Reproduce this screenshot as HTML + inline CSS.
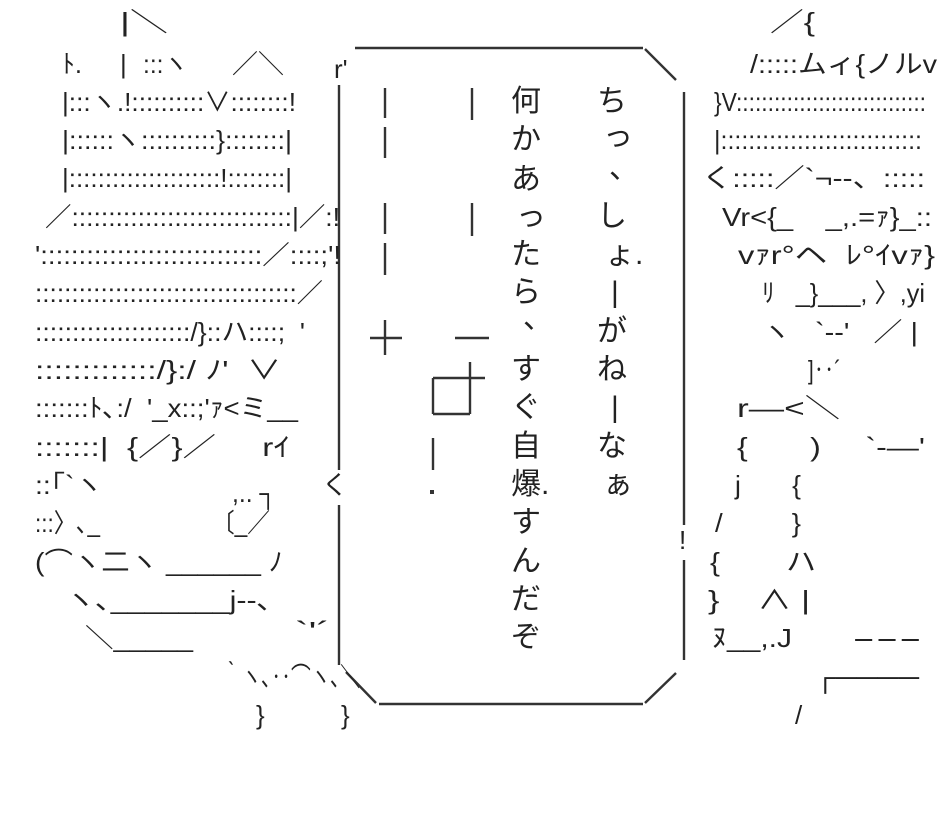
<!DOCTYPE html>
<html><head><meta charset="utf-8">
<style>
html,body{margin:0;padding:0;background:#fff;}
#c{position:relative;width:937px;height:819px;overflow:hidden;}
#c span{position:absolute;white-space:pre;font-family:"Liberation Sans","Noto Sans CJK JP",sans-serif;font-size:26px;line-height:38px;color:#222;transform-origin:0 50%;}
#c span.k{font-size:30px;}
svg{position:absolute;left:0;top:0;}
</style></head><body>
<div id="c">
<svg width="937" height="819" stroke="#333" stroke-width="2.4" fill="none">
<line x1="355" y1="48" x2="643" y2="48"/>
<line x1="645" y1="49" x2="676" y2="80"/>
<line x1="339" y1="85" x2="339" y2="470"/>
<line x1="339" y1="505" x2="339" y2="665"/>
<line x1="684" y1="92" x2="684" y2="525"/>
<line x1="684" y1="560" x2="684" y2="660"/>
<line x1="346" y1="672" x2="376" y2="703"/>
<line x1="379" y1="704" x2="643" y2="704"/>
<line x1="645" y1="703" x2="676" y2="673"/>
<line x1="385" y1="88" x2="385" y2="118"/>
<line x1="385" y1="127" x2="385" y2="158"/>
<line x1="385" y1="203" x2="385" y2="234"/>
<line x1="385" y1="243" x2="385" y2="275"/>
<line x1="472" y1="88" x2="472" y2="120"/>
<line x1="472" y1="203" x2="472" y2="236"/>
<line x1="370" y1="338" x2="402" y2="338"/>
<line x1="385" y1="320" x2="385" y2="355"/>
<line x1="455" y1="338" x2="489" y2="338"/>
<line x1="433" y1="378" x2="433" y2="414"/>
<line x1="433" y1="378" x2="485" y2="378"/>
<line x1="470" y1="362" x2="470" y2="414"/>
<line x1="433" y1="414" x2="470" y2="414"/>
<line x1="433" y1="438" x2="433" y2="470"/>
<rect x="430" y="490" width="4" height="4" fill="#333" stroke="none"/>
</svg>

<span style="left:334px;top:50px">r'</span>
<span style="left:322px;top:466px">く</span>
<span style="left:679px;top:521px">!</span>

<span class="k" style="left:511px;top:83px">何</span>
<span class="k" style="left:511px;top:121px">か</span>
<span class="k" style="left:511px;top:161px">あ</span>
<span class="k" style="left:516px;top:198px">っ</span>
<span class="k" style="left:511px;top:236px">た</span>
<span class="k" style="left:511px;top:274px">ら</span>
<span class="k" style="left:523px;top:300px">、</span>
<span class="k" style="left:511px;top:351px">す</span>
<span class="k" style="left:511px;top:389px">ぐ</span>
<span class="k" style="left:511px;top:428px">自</span>
<span class="k" style="left:511px;top:466px">爆.</span>
<span class="k" style="left:511px;top:504px">す</span>
<span class="k" style="left:511px;top:543px">ん</span>
<span class="k" style="left:511px;top:581px">だ</span>
<span class="k" style="left:511px;top:619px">ぞ</span>

<span class="k" style="left:597px;top:83px">ち</span>
<span class="k" style="left:603px;top:118px">っ</span>
<span class="k" style="left:609px;top:150px">、</span>
<span class="k" style="left:597px;top:198px">し</span>
<span class="k" style="left:605px;top:236px">ょ.</span>
<span class="k" style="left:611px;top:274px">|</span>
<span class="k" style="left:597px;top:313px">が</span>
<span class="k" style="left:597px;top:351px">ね</span>
<span class="k" style="left:611px;top:389px">|</span>
<span class="k" style="left:597px;top:428px">な</span>
<span class="k" style="left:603px;top:466px">ぁ</span>

<span style="left:120px;top:3px" w="48">|＼</span>
<span style="left:62px;top:45px" w="20">ﾄ.</span>
<span style="left:120px;top:45px">|</span>
<span style="left:143px;top:45px" w="45">:::ヽ</span>
<span style="left:232px;top:45px" w="52">／＼</span>
<span style="left:62px;top:83px" w="234">|:::ヽ.!::::::::::∨::::::::!</span>
<span style="left:62px;top:121px" w="230">|::::::ヽ::::::::::}::::::::|</span>
<span style="left:62px;top:159px" w="230">|:::::::::::::::::::::!::::::::|</span>
<span style="left:45px;top:198px" w="295">／::::::::::::::::::::::::::::::|／:!</span>
<span style="left:35px;top:236px" w="306">':::::::::::::::::::::::::::::／::::;'!</span>
<span style="left:35px;top:274px" w="288">::::::::::::::::::::::::::::::::::::／</span>
<span style="left:35px;top:313px" w="270">:::::::::::::::::::::/}::ハ::::;  '</span>
<span style="left:35px;top:351px" w="246">:::::::::::::/}:/ ﾉ'  ∨</span>
<span style="left:35px;top:389px" w="263">:::::::ﾄ､:/  '_x::;'ｧ<ミ__</span>
<span style="left:35px;top:428px" w="255">:::::::|  {／}／     rｲ</span>
<span style="left:35px;top:466px" w="68">::｢`ヽ</span>
<span style="left:232px;top:474px" w="45">,.. ┐</span>
<span style="left:35px;top:504px" w="65">:::〉､_</span>
<span style="left:212px;top:504px" w="58">〔_／</span>
<span style="left:35px;top:543px" w="248">(⌒ヽ二ヽ ______ ﾉ</span>
<span style="left:65px;top:581px" w="207">ヽ､_______j--､</span>
<span style="left:85px;top:619px" w="108">＼_____</span>
<span style="left:295px;top:612px" w="35">`'´</span>
<span style="left:222px;top:658px" w="138">｀ヽ､‥⌒ヽ､＼</span>
<span style="left:256px;top:696px">}</span>
<span style="left:341px;top:696px">}</span>

<span style="left:770px;top:3px" w="45">／{</span>
<span style="left:750px;top:45px" w="187">/:::::ムィ{ノルv</span>
<span style="left:714px;top:83px" w="212">}V::::::::::::::::::::::::::::::</span>
<span style="left:714px;top:121px" w="208">|:::::::::::::::::::::::::::::</span>
<span style="left:702px;top:159px" w="223">く:::::／`¬‐‐、:::::</span>
<span style="left:722px;top:198px" w="210">Vr<{_    _,.=ｧ}_::</span>
<span style="left:738px;top:236px" w="197">vｧr°ヘ  ﾚ°ｲvｧ}</span>
<span style="left:762px;top:274px" w="163">ﾘ   _}___, 〉,yi</span>
<span style="left:762px;top:313px" w="156">ヽ   `‐‐'   ／ |</span>
<span style="left:808px;top:351px" w="33">]‥´</span>
<span style="left:737px;top:389px" w="103">r—<＼</span>
<span style="left:737px;top:428px" w="188">{       )     `-—'</span>
<span style="left:735px;top:466px" w="66">j       {</span>
<span style="left:715px;top:504px" w="86">/         }</span>
<span style="left:710px;top:543px" w="106">{        ハ</span>
<span style="left:708px;top:581px" w="102">}    ∧ |</span>
<span style="left:712px;top:619px" w="80">ﾇ__,.J</span>
<span style="left:852px;top:619px" w="70">---</span>
<span style="left:815px;top:658px" w="104">┌────</span>
<span style="left:795px;top:696px">/</span>
</div>
<script>
document.querySelectorAll('#c span[w]').forEach(function(s){
  var w=parseFloat(s.getAttribute('w'));var a=s.getBoundingClientRect().width;
  if(a>0){s.style.transform='scaleX('+(w/a)+')';}
});
</script>
</body></html>
